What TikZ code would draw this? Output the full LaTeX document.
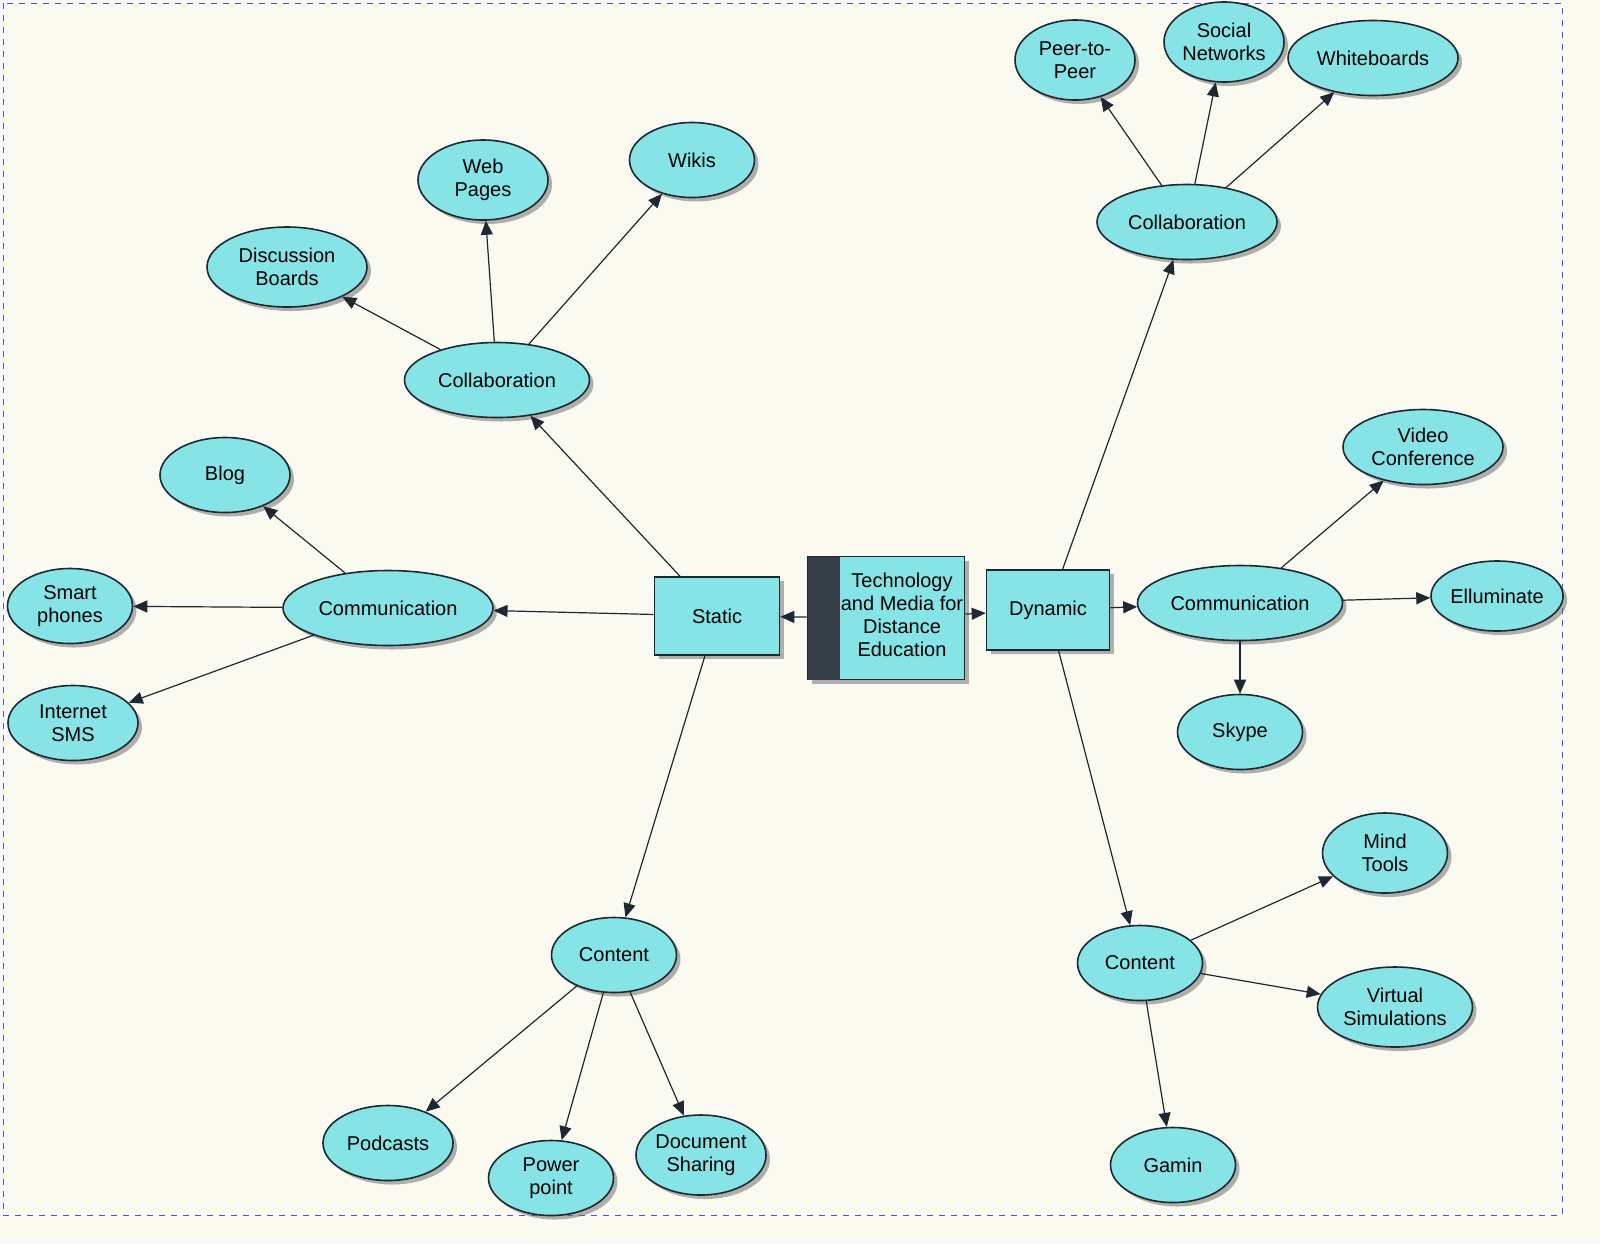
\documentclass[tikz,border=0pt]{standalone}
\usepackage{fontspec}
\setmainfont{Liberation Sans}
\usetikzlibrary{shapes.geometric,arrows.meta,shadows}
\definecolor{bg}{RGB}{250,250,240}
\definecolor{fillc}{RGB}{135,228,230}
\definecolor{edgec}{RGB}{30,40,50}
\begin{document}
\begin{tikzpicture}[x=0.5pt,y=-0.5pt,
  every node/.style={font=\fontsize{10}{11.5}\selectfont, align=center, text=black},
  ell/.style 2 args={ellipse, draw=edgec, line width=0.8pt, fill=fillc, inner sep=0pt,
     minimum width=#1*0.5pt, minimum height=#2*0.5pt,
     drop shadow={shadow xshift=2pt, shadow yshift=-2pt, fill=black!60}},
  boxn/.style 2 args={rectangle, draw=edgec, line width=0.8pt, fill=fillc, inner sep=0pt,
     minimum width=#1*0.5pt, minimum height=#2*0.5pt,
     drop shadow={shadow xshift=2pt, shadow yshift=-2pt, fill=black!60}},
  arr/.style={draw=edgec, line width=0.6pt, -{Triangle[length=7pt,width=6pt]}}]
\useasboundingbox (0,0) rectangle (1600,1244);
\fill[bg] (0,0) rectangle (1600,1244);
\draw[blue!70, dashed, line width=0.5pt] (3,3) rectangle (1562,1215);

% center
\node[boxn={157}{123}] (center) at (886,618) {};
\fill[edgec!90] (808,557) rectangle (840,680);
\node at (902,615) {Technology\\and Media for\\Distance\\Education};
\node[boxn={125}{78}] (static) at (717,616) {Static};
\node[boxn={123}{80}] (dynamic) at (1048,610) {Dynamic};

% left
\node[ell={210}{75}] (lcomm) at (388,608) {Communication};
\node[ell={125}{75}] (smart) at (70,606) {Smart\\phones};
\node[ell={130}{75}] (sms) at (73,723) {Internet\\SMS};
\node[ell={130}{75}] (blog) at (225,475) {Blog};
\node[ell={185}{75}] (lcoll) at (497,380) {Collaboration};
\node[ell={160}{80}] (disc) at (287,267) {Discussion\\Boards};
\node[ell={130}{80}] (web) at (483,180) {Web\\Pages};
\node[ell={125}{75}] (wikis) at (692,160) {Wikis};
\node[ell={125}{75}] (lcont) at (614,955) {Content};
\node[ell={130}{75}] (pod) at (388,1143) {Podcasts};
\node[ell={125}{75}] (ppt) at (551,1178) {Power\\point};
\node[ell={130}{80}] (doc) at (701,1155) {Document\\Sharing};

% right
\node[ell={180}{75}] (rcoll) at (1187,222) {Collaboration};
\node[ell={120}{80}] (peer) at (1075,60) {Peer-to-\\Peer};
\node[ell={120}{80}] (social) at (1224,42) {Social\\Networks};
\node[ell={170}{75}] (white) at (1373,58) {Whiteboards};
\node[ell={205}{75}] (rcomm) at (1240,603) {Communication};
\node[ell={160}{75}] (video) at (1423,447) {Video\\Conference};
\node[ell={120}{70}] (ellu) at (1497,596) {Elluminate};
\node[ell={125}{75}] (skype) at (1240,732) {Skype};
\node[ell={125}{75}] (rcont) at (1140,963) {Content};
\node[ell={125}{80}] (mind) at (1385,853) {Mind\\Tools};
\node[ell={155}{80}] (virt) at (1395,1007) {Virtual\\Simulations};
\node[ell={125}{75}] (gam) at (1173,1165) {Gamin};

% connectors
\draw[arr] (center) -- (static);
\draw[arr] (center) -- (dynamic);
\draw[arr] (static) -- (lcomm);
\draw[arr] (static) -- (lcoll);
\draw[arr] (static) -- (lcont);
\draw[arr] (lcomm) -- (smart);
\draw[arr] (lcomm) -- (sms);
\draw[arr] (lcomm) -- (blog);
\draw[arr] (lcoll) -- (disc);
\draw[arr] (lcoll) -- (web);
\draw[arr] (lcoll) -- (wikis);
\draw[arr] (lcont) -- (pod);
\draw[arr] (lcont) -- (ppt);
\draw[arr] (lcont) -- (doc);
\draw[arr] (dynamic) -- (rcoll);
\draw[arr] (dynamic) -- (rcomm);
\draw[arr] (dynamic) -- (rcont);
\draw[arr] (rcoll) -- (peer);
\draw[arr] (rcoll) -- (social);
\draw[arr] (rcoll) -- (white);
\draw[arr] (rcomm) -- (video);
\draw[arr] (rcomm) -- (ellu);
\draw[arr] (rcomm) -- (skype);
\draw[arr] (rcont) -- (mind);
\draw[arr] (rcont) -- (virt);
\draw[arr] (rcont) -- (gam);
\end{tikzpicture}
\end{document}
